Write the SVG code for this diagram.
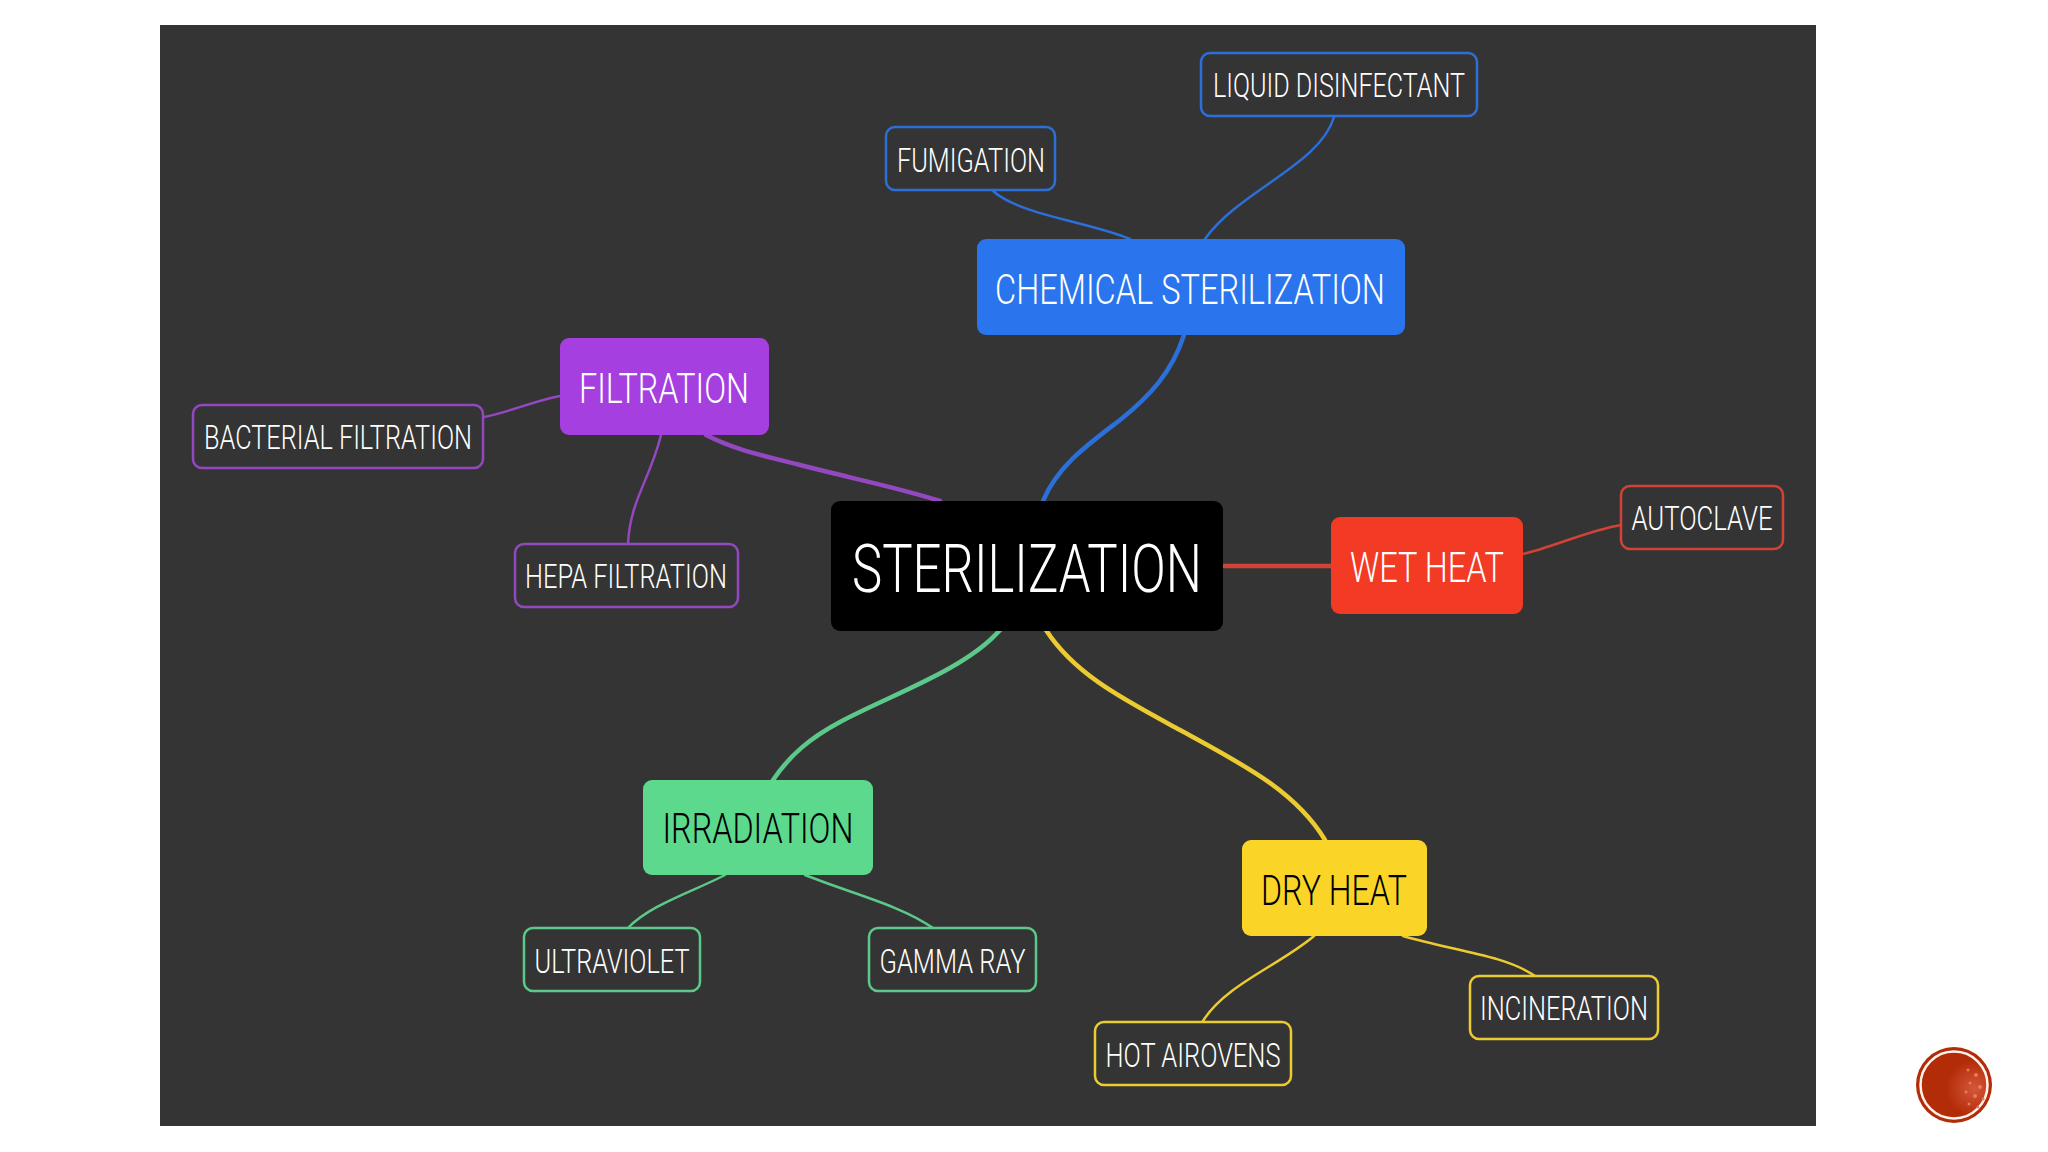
<svg xmlns="http://www.w3.org/2000/svg" width="2048" height="1152" viewBox="0 0 2048 1152">
<defs><radialGradient id="dots" cx="0.8" cy="0.55" r="0.42"><stop offset="0" stop-color="#d4573a"/><stop offset="1" stop-color="#b32c08"/></radialGradient></defs>
<style>
text{font-family:Roboto,"Liberation Sans",sans-serif;font-weight:300;text-anchor:middle;fill:#fff}
.c{fill:none;stroke-linecap:round}
.m{stroke-width:4.5}.s{stroke-width:2.5}
.l{font-size:33px}.h{font-size:42px}
.box{fill:#343434;stroke-width:2.5}
.blue{stroke:#2c6fd8}.purple{stroke:#9348c0}.red{stroke:#cf4436}.green{stroke:#5cc98a}.yellow{stroke:#eccb30}
.dot{fill:#e8795c}
</style>
<rect width="2048" height="1152" fill="#fff"/>
<rect x="160" y="25" width="1656" height="1101" fill="#343434"/>
<g id="connectors">
<path class="c m blue" d="M1043 501C1058 465 1090 443 1120 420C1150 396 1172 372 1184 335"/>
<path class="c m purple" d="M940 501C900 488 850 478 800 465C765 456 735 450 706 435"/>
<path class="c m red" d="M1223 566H1331"/>
<path class="c m green" d="M1000 630C965 670 890 695 840 722C810 738 790 755 773 780"/>
<path class="c m yellow" d="M1046 630C1075 675 1125 700 1180 730C1240 763 1295 790 1325 840"/>
<path class="c s blue" d="M1130 239C1090 222 1020 215 993 191"/>
<path class="c s blue" d="M1205 239C1240 190 1320 165 1334 117"/>
<path class="c s purple" d="M560 396C530 402 510 412 484 417"/>
<path class="c s purple" d="M661 435C650 480 630 500 628 544"/>
<path class="c s red" d="M1523 554C1550 548 1590 530 1621 525"/>
<path class="c s green" d="M725 875C690 893 650 905 628 928"/>
<path class="c s green" d="M805 875C850 893 900 905 933 928"/>
<path class="c s yellow" d="M1314 936C1280 965 1225 985 1203 1021"/>
<path class="c s yellow" d="M1403 936C1450 950 1505 955 1535 976"/>
</g>
<g id="root"><rect x="831" y="501" width="392" height="130" rx="9" fill="#000"/><text x="1027" y="592" font-size="66" textLength="350" lengthAdjust="spacingAndGlyphs">STERILIZATION</text></g>
<g id="chemical"><rect x="977" y="239" width="428" height="96" rx="9" fill="#2a74ee"/><text x="1190" y="304" class="h" textLength="390" lengthAdjust="spacingAndGlyphs">CHEMICAL STERILIZATION</text></g>
<g id="filtration"><rect x="560" y="338" width="209" height="97" rx="9" fill="#a53fdf"/><text x="664" y="403" class="h" textLength="170" lengthAdjust="spacingAndGlyphs">FILTRATION</text></g>
<g id="wet-heat"><rect x="1331" y="517" width="192" height="97" rx="9" fill="#f23a24"/><text x="1427" y="582" class="h" textLength="154" lengthAdjust="spacingAndGlyphs">WET HEAT</text></g>
<g id="irradiation"><rect x="643" y="780" width="230" height="95" rx="9" fill="#5cd98c"/><text x="758" y="843" class="h" style="fill:#000" textLength="191" lengthAdjust="spacingAndGlyphs">IRRADIATION</text></g>
<g id="dry-heat"><rect x="1242" y="840" width="185" height="96" rx="9" fill="#fad527"/><text x="1334" y="905" class="h" style="fill:#000" textLength="146" lengthAdjust="spacingAndGlyphs">DRY HEAT</text></g>
<g id="liquid"><rect x="1201" y="53" width="276" height="63" rx="9" class="box blue"/><text x="1339" y="97" class="l" textLength="252" lengthAdjust="spacingAndGlyphs">LIQUID DISINFECTANT</text></g>
<g id="fumigation"><rect x="886" y="127" width="169" height="63" rx="9" class="box blue"/><text x="971" y="172" class="l" textLength="148" lengthAdjust="spacingAndGlyphs">FUMIGATION</text></g>
<g id="bacterial"><rect x="193" y="405" width="290" height="63" rx="9" class="box purple"/><text x="338" y="449" class="l" textLength="268" lengthAdjust="spacingAndGlyphs">BACTERIAL FILTRATION</text></g>
<g id="hepa"><rect x="515" y="544" width="223" height="63" rx="9" class="box purple"/><text x="626" y="588" class="l" textLength="202" lengthAdjust="spacingAndGlyphs">HEPA FILTRATION</text></g>
<g id="autoclave"><rect x="1621" y="486" width="162" height="63" rx="9" class="box red"/><text x="1702" y="530" class="l" textLength="141" lengthAdjust="spacingAndGlyphs">AUTOCLAVE</text></g>
<g id="ultraviolet"><rect x="524" y="928" width="176" height="63" rx="9" class="box green"/><text x="612" y="973" class="l" textLength="155" lengthAdjust="spacingAndGlyphs">ULTRAVIOLET</text></g>
<g id="gamma-ray"><rect x="869" y="928" width="167" height="63" rx="9" class="box green"/><text x="952.500" y="973" class="l" textLength="146" lengthAdjust="spacingAndGlyphs">GAMMA RAY</text></g>
<g id="hot-air-ovens"><rect x="1095" y="1022" width="196" height="63" rx="9" class="box yellow"/><text x="1193" y="1067" class="l" textLength="175" lengthAdjust="spacingAndGlyphs">HOT AIROVENS</text></g>
<g id="incineration"><rect x="1470" y="976" width="188" height="63" rx="9" class="box yellow"/><text x="1564" y="1020" class="l" textLength="168" lengthAdjust="spacingAndGlyphs">INCINERATION</text></g>
<g id="badge"><circle cx="1954" cy="1085" r="38" fill="#b32c08"/><circle cx="1954" cy="1085" r="33.500" fill="url(#dots)" stroke="#fff3ee" stroke-width="2.500"/>
<g class="dot"><circle cx="1968" cy="1070" r="1.500"/><circle cx="1976" cy="1075" r="2"/><circle cx="1970" cy="1083" r="1.500"/><circle cx="1980" cy="1087" r="2"/><circle cx="1966" cy="1092" r="1.500"/><circle cx="1975" cy="1096" r="2"/><circle cx="1983" cy="1099" r="1.500"/><circle cx="1969" cy="1104" r="1.500"/><circle cx="1978" cy="1107" r="1.500"/></g></g>
</svg>
